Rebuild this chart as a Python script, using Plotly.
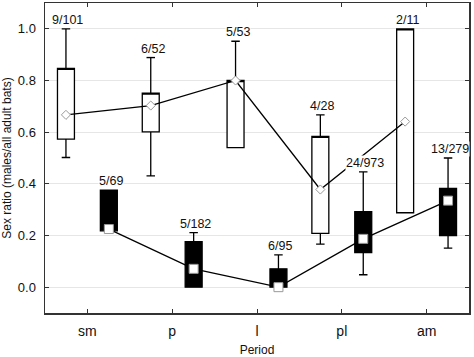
import plotly.graph_objects as go

periods = ["sm", "p", "l", "pl", "am"]

# open boxes (first series)
open_q1 = [0.573, 0.601, 0.540, 0.208, 0.288]
open_q3 = [0.847, 0.751, 0.800, 0.584, 1.000]
open_lo = [0.502, 0.431, 0.540, 0.167, 0.288]
open_hi = [1.000, 0.889, 0.952, 0.667, 1.000]
open_mean = [0.667, 0.703, 0.800, 0.378, 0.641]
open_labels = ["9/101", "6/52", "5/53", "4/28", "2/11"]

# filled boxes (second series)
fill_q1 = [0.218, 0.000, 0.000, 0.134, 0.200]
fill_q3 = [0.376, 0.176, 0.071, 0.292, 0.382]
fill_lo = [0.218, 0.000, 0.000, 0.048, 0.151]
fill_hi = [0.376, 0.211, 0.125, 0.446, 0.500]
fill_mean = [0.225, 0.071, 0.000, 0.187, 0.335]
fill_labels = ["5/69", "5/182", "6/95", "24/973", "13/279"]

OFF = 0.253
BW = 0.2
idx = list(range(len(periods)))
x_open = [i - OFF for i in idx]
x_fill = [i + OFF for i in idx]

fig = go.Figure()

fig.add_trace(go.Box(
    x=x_open, q1=open_q1, q3=open_q3, median=open_q3,
    lowerfence=open_lo, upperfence=open_hi,
    width=BW, whiskerwidth=0.5, boxpoints=False,
    fillcolor="white", line=dict(color="black", width=1.3),
    showlegend=False, hoverinfo="skip"))

fig.add_trace(go.Box(
    x=x_fill, q1=fill_q1, q3=fill_q3, median=fill_q3,
    lowerfence=fill_lo, upperfence=fill_hi,
    width=BW, whiskerwidth=0.5, boxpoints=False,
    fillcolor="black", line=dict(color="black", width=1.3),
    showlegend=False, hoverinfo="skip"))

fig.add_trace(go.Scatter(
    x=x_open, y=open_mean, mode="lines+markers",
    line=dict(color="black", width=1.3),
    marker=dict(symbol="diamond", size=7, color="white",
                line=dict(color="#999", width=1)),
    showlegend=False, hoverinfo="skip"))

fig.add_trace(go.Scatter(
    x=x_fill, y=fill_mean, mode="lines+markers",
    line=dict(color="black", width=1.3),
    marker=dict(symbol="square", size=9, color="white",
                line=dict(color="#999", width=1)),
    showlegend=False, hoverinfo="skip"))

for xs, hi, q3, labs in [(x_open, open_hi, open_q3, open_labels),
                         (x_fill, fill_hi, fill_q3, fill_labels)]:
    for x, h, q, t in zip(xs, hi, q3, labs):
        fig.add_annotation(x=x, y=max(h, q), text=t, showarrow=False,
                           xanchor="center", yanchor="bottom", xshift=2, yshift=1,
                           bgcolor="white", borderpad=0,
                           font=dict(family="Liberation Sans, Arial", size=12.5, color="#111"))

axis_common = dict(showline=True, linecolor="#333", linewidth=1.5, mirror="ticks",
                   ticks="inside", ticklen=4, tickcolor="#333", tickwidth=1)

fig.update_xaxes(range=[-0.5, 4.5], tickvals=idx, ticktext=periods,
                 showgrid=False, zeroline=False, ticklabelstandoff=5,
                 tickfont=dict(size=14, color="#111"),
                 title=dict(text="Period", font=dict(size=12, color="#111"), standoff=8),
                 **axis_common)
fig.update_yaxes(range=[-0.1, 1.1], tickvals=[0, 0.2, 0.4, 0.6, 0.8, 1.0],
                 tickformat=".1f", showgrid=True, gridcolor="#e6e6e6", gridwidth=1,
                 zeroline=False, ticklabelstandoff=5,
                 tickfont=dict(size=13, color="#111"),
                 title=dict(text="Sex ratio (males/all adult bats)",
                            font=dict(size=12, color="#111"), standoff=6),
                 **axis_common)

fig.update_layout(width=474, height=357,
                  margin=dict(l=45, r=5, t=3, b=44, autoexpand=False),
                  plot_bgcolor="white", paper_bgcolor="white",
                  font=dict(family="Liberation Sans, Arial"))

fig.write_html("out.html", config={"displayModeBar": False, "staticPlot": True},
               post_script="document.body.style.margin='0';document.body.style.overflow='hidden';")
